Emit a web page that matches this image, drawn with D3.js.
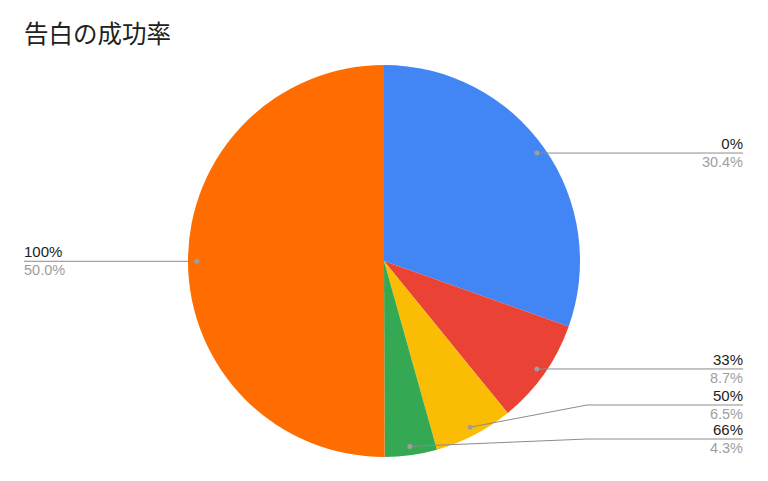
<!DOCTYPE html>
<html><head><meta charset="utf-8">
<script src="https://cdn.jsdelivr.net/npm/d3@7"></script>
<style>body{margin:0;background:#fff}</style>
</head><body>
<svg id="c" width="768" height="481"></svg>
<script>
const title = "告白の成功率";
const categories = ["0%", "33%", "50%", "66%", "100%"];
const shares = [30.4, 8.7, 6.5, 4.3, 50.0];
const colors = ["#4285F4", "#EA4335", "#FBBC04", "#34A853", "#FF6D01"];

(function(){
const svg = d3.select("#c");
const W = 768, H = 481;
const cx = 384, cy = 261, R = 196;
const font = "Arial, 'Liberation Sans', sans-serif";

svg.append("rect").attr("width", W).attr("height", H).attr("fill", "#fff");
svg.append("text").attr("x", 24).attr("y", 43)
  .attr("font-family", "'Noto Sans CJK JP', sans-serif")
  .attr("font-size", 24.5).attr("fill", "#212121").text(title);

const data = categories.map((c, i) => ({c, v: shares[i], col: colors[i]}));
const pie = d3.pie().sort(null).value(d => d.v);
const arcs = pie(data);
const arc = d3.arc().innerRadius(0).outerRadius(R);
const g = svg.append("g").attr("transform", `translate(${cx},${cy})`);
g.selectAll("path").data(arcs).enter().append("path")
  .attr("d", arc).attr("fill", d => d.data.col);

// label layout
const rDot = R * 0.955;
const items = arcs.map(a => {
  const m = (a.startAngle + a.endAngle) / 2;
  return {a, x: cx + rDot * Math.sin(m), y: cy - rDot * Math.cos(m), right: Math.sin(m) >= 0};
});
items.forEach(it => it.ly = it.y);
const gap = 34, yMax = 439, yMin = 70;
[true, false].forEach(side => {
  const s = items.filter(d => d.right === side).sort((a, b) => a.y - b.y);
  for (let i = 0; i < s.length; i++) {
    if (i > 0 && s[i].ly < s[i-1].ly + gap) s[i].ly = s[i-1].ly + gap;
  }
  if (s.length && s[s.length-1].ly > yMax) s[s.length-1].ly = yMax;
  for (let i = s.length - 2; i >= 0; i--) {
    if (s[i].ly > s[i+1].ly - gap) s[i].ly = s[i+1].ly - gap;
  }
  if (s.length && s[0].ly < yMin) s[0].ly = yMin;
});

const xR = 743, xL = 24, elbowR = 587, elbowL = 181;
const lab = svg.append("g");
items.forEach(it => {
  const endX = it.right ? xR : xL;
  const pts = [[it.x, it.y]];
  if (Math.abs(it.ly - it.y) > 1) pts.push([it.right ? elbowR : elbowL, it.ly]);
  else it.ly = it.y;
  pts.push([endX, it.ly]);
  lab.append("path").attr("d", d3.line()(pts)).attr("fill", "none")
    .attr("stroke", "#8c8c8c").attr("stroke-width", 1);
  lab.append("circle").attr("cx", it.x).attr("cy", it.y).attr("r", 2.5).attr("fill", "#9e9e9e");
  const anchor = it.right ? "end" : "start";
  lab.append("text").attr("x", endX).attr("y", it.ly - 4).attr("text-anchor", anchor)
    .attr("font-family", font).attr("font-size", 15).attr("fill", "#222").text(it.a.data.c);
  lab.append("text").attr("x", endX).attr("y", it.ly + 14).attr("text-anchor", anchor)
    .attr("font-family", font).attr("font-size", 14.5).attr("fill", "#9e9e9e")
    .text(it.a.data.v.toFixed(1) + "%");
});
})();
</script>
</body></html>
